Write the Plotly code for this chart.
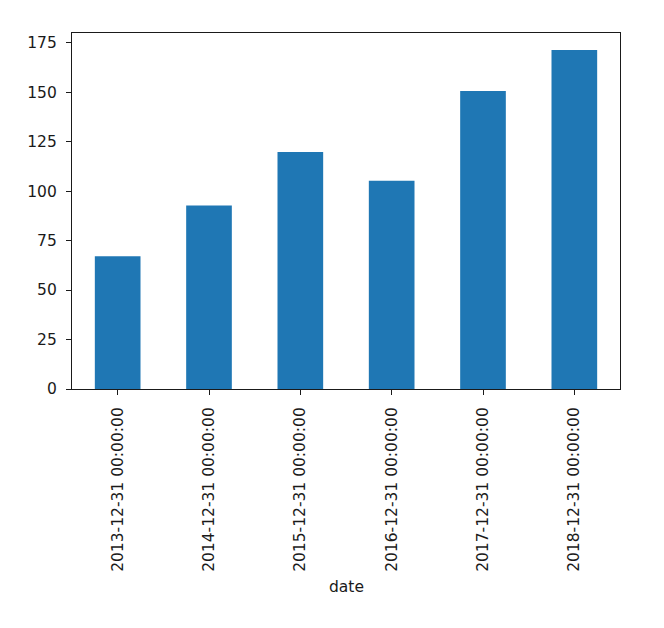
import plotly.graph_objects as go

dates = ["2013-12-31 00:00:00", "2014-12-31 00:00:00", "2015-12-31 00:00:00",
         "2016-12-31 00:00:00", "2017-12-31 00:00:00", "2018-12-31 00:00:00"]
values = [67.1, 92.7, 119.8, 105.2, 150.6, 171.3]
y_ticks = [0, 25, 50, 75, 100, 125, 150, 175]
x_label = "date"

FONT = "DejaVu Sans"
TEXT = "#1a1a1a"
FS = 15.5

fig = go.Figure(go.Bar(x=list(range(len(dates))), y=values, width=0.5,
                       marker=dict(color="#1f77b4", line=dict(width=0))))

fig.update_layout(
    width=664, height=628,
    margin=dict(l=64, r=52, t=25, b=247),
    paper_bgcolor="white", plot_bgcolor="white",
    font=dict(family=FONT, size=FS, color=TEXT),
    showlegend=False,
    annotations=[dict(text=x_label, x=0.5, xref="paper", y=0, yref="paper",
                      yanchor="middle", xanchor="center", yshift=-198,
                      showarrow=False, font=dict(family=FONT, size=FS, color=TEXT))],
)
fig.update_xaxes(
    range=[-0.5, len(dates) - 0.5],
    tickmode="array", tickvals=list(range(len(dates))), ticktext=dates,
    tickangle=-90, ticks="outside", ticklen=5, tickwidth=1, tickcolor=TEXT,
    showline=True, linecolor=TEXT, linewidth=1.1, mirror=True,
    showgrid=False, zeroline=False, automargin=False, ticklabelstandoff=6,
)
fig.update_yaxes(
    range=[0, 179.9], tickmode="array", tickvals=y_ticks,
    ticks="outside", ticklen=5, tickwidth=1, tickcolor=TEXT,
    showline=True, linecolor=TEXT, linewidth=1.1, mirror=True,
    showgrid=False, zeroline=False, automargin=False, ticklabelstandoff=6,
)

fig.write_html("out.html")
